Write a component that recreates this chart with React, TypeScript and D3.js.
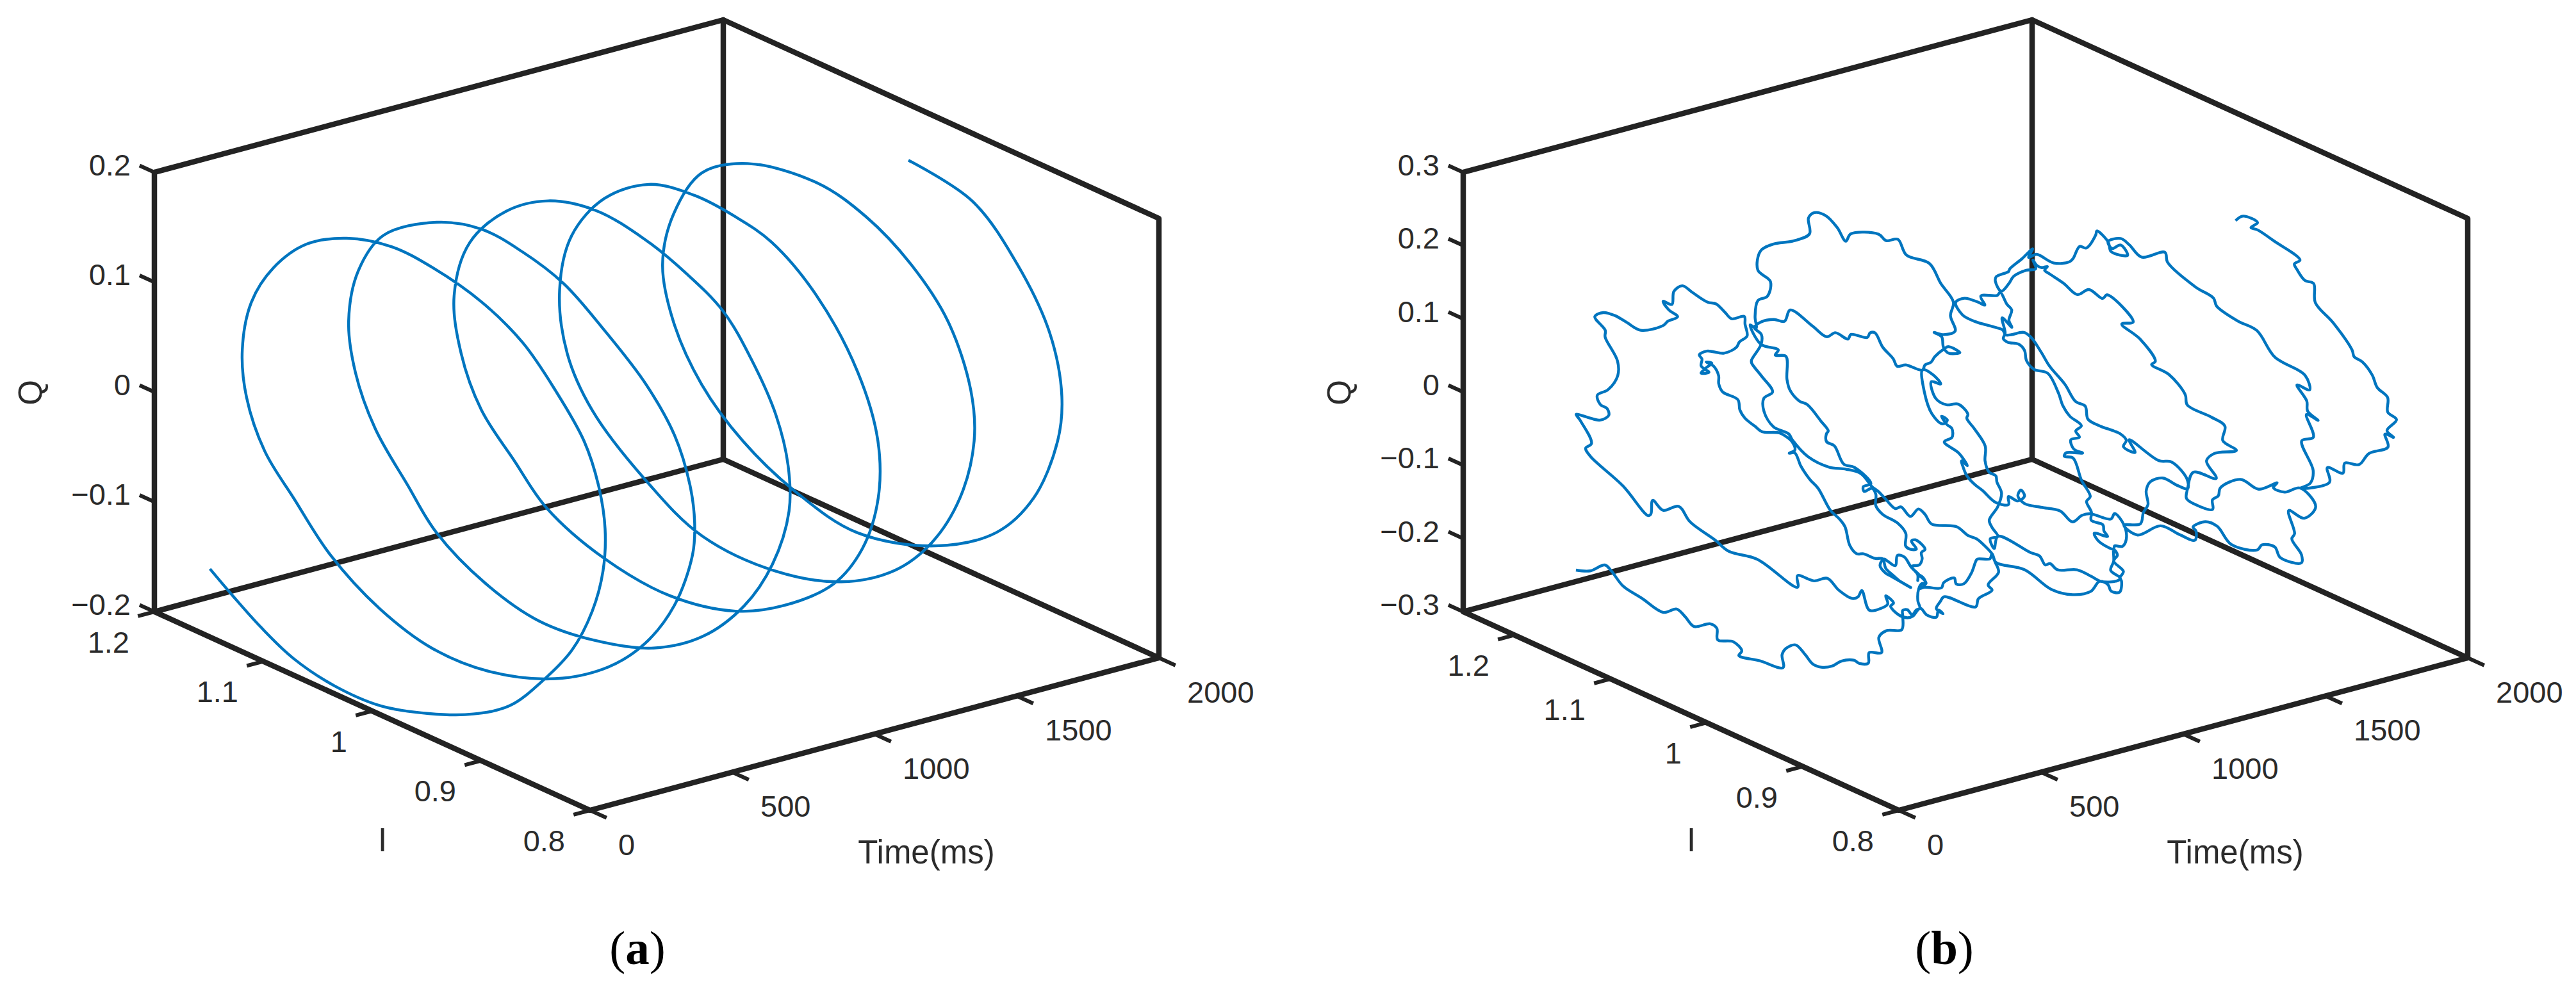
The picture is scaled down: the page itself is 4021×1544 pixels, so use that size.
import * as d3 from 'd3';
import { useEffect, useRef } from 'react';

// Tick labels shared by both panels
const timeTicks = [0, 500, 1000, 1500, 2000];
const iTicks = [0.8, 0.9, 1, 1.1, 1.2];
const qTicksA = [-0.2, -0.1, 0, 0.1, 0.2];
const qTicksB = [-0.3, -0.2, -0.1, 0, 0.1, 0.2, 0.3];

// Panel (a): clean signal
const aTime = [
  0, 11, 22, 33, 44, 54, 65, 76, 87, 98, 109, 119, 130, 141, 152, 163, 174, 185, 195, 206, 217, 228,
  243, 257, 272, 286, 301, 315, 330, 344, 359, 373, 388, 402, 417, 431, 446, 460, 475, 489, 504, 518, 533, 547, 562, 576, 590,
  606, 622, 637, 653, 669, 684, 700, 716, 732, 747, 763, 779, 794, 810, 826, 842, 857, 873, 889, 905, 920, 936, 952,
  969, 986, 1004, 1021, 1038, 1055, 1073, 1090, 1107, 1124, 1142, 1159, 1176, 1193, 1211, 1228, 1245, 1262, 1279, 1297, 1314,
  1333, 1352, 1371, 1390, 1409, 1428, 1447, 1466, 1485, 1504, 1523, 1542, 1561, 1580, 1599, 1618, 1637, 1656, 1676,
  1695, 1714, 1733, 1752, 1771, 1790, 1809, 1828, 1847, 1866, 1885, 1904, 1923, 1942, 1961, 1980, 2000,
];
const aI = [
  1.149, 1.131, 1.108, 1.081, 1.046, 1.007, 0.965, 0.927, 0.896, 0.869, 0.845, 0.829, 0.822, 0.823, 0.832, 0.848, 0.877, 0.91, 0.95, 0.998, 1.039, 1.083,
  1.124, 1.158, 1.182, 1.194, 1.194, 1.181, 1.158, 1.128, 1.087, 1.042, 0.993, 0.937, 0.892, 0.862, 0.839, 0.826, 0.828, 0.836, 0.854, 0.884, 0.926, 0.967, 1.009, 1.05, 1.095,
  1.148, 1.175, 1.188, 1.186, 1.172, 1.146, 1.124, 1.083, 1.038, 0.989, 0.941, 0.9, 0.866, 0.844, 0.833, 0.838, 0.853, 0.88, 0.91, 0.948, 0.99, 1.039, 1.087,
  1.13, 1.168, 1.187, 1.185, 1.171, 1.145, 1.12, 1.072, 1.016, 0.96, 0.92, 0.879, 0.857, 0.847, 0.852, 0.875, 0.917, 0.963, 1.001, 1.043, 1.089,
  1.135, 1.17, 1.186, 1.184, 1.166, 1.122, 1.075, 1.012, 0.957, 0.913, 0.884, 0.863, 0.855, 0.863, 0.889, 0.928, 0.974, 1.024, 1.093,
  1.14, 1.171, 1.186, 1.181, 1.16, 1.127, 1.083, 1.032, 0.965, 0.914, 0.885, 0.868, 0.869, 0.885, 0.92, 0.966, 1.03,
];
const aQ = [
  -0.138, -0.155, -0.174, -0.191, -0.201, -0.202, -0.191, -0.175, -0.154, -0.12, -0.082, -0.04, -0.001, 0.036, 0.071, 0.103, 0.135, 0.163, 0.181, 0.19, 0.19, 0.177,
  0.152, 0.114, 0.071, 0.021, -0.023, -0.067, -0.101, -0.14, -0.171, -0.188, -0.188, -0.17, -0.14, -0.106, -0.062, -0.011, 0.016, 0.046, 0.082, 0.114, 0.143, 0.166, 0.175, 0.176, 0.161,
  0.124, 0.079, 0.026, -0.021, -0.067, -0.108, -0.142, -0.171, -0.186, -0.183, -0.169, -0.141, -0.099, -0.052, 0, 0.038, 0.076, 0.114, 0.143, 0.159, 0.17, 0.173, 0.159,
  0.129, 0.082, 0.024, -0.029, -0.075, -0.111, -0.144, -0.169, -0.179, -0.169, -0.147, -0.11, -0.069, -0.02, 0.029, 0.08, 0.129, 0.156, 0.161, 0.16, 0.148,
  0.113, 0.062, 0.004, -0.054, -0.099, -0.144, -0.175, -0.18, -0.166, -0.137, -0.1, -0.051, 0.003, 0.044, 0.094, 0.127, 0.148, 0.155, 0.14,
  0.109, 0.056, 0.002, -0.049, -0.098, -0.136, -0.164, -0.179, -0.162, -0.128, -0.085, -0.027, 0.012, 0.061, 0.107, 0.142, 0.149,
];

// Panel (b): noisy signal, sampled evenly in time
const bTime = [
  0,3,7,10,13,16,20,23,26,30,33,36,39,43,46,49,52,56,59,62,66,69,72,75,79,
  82,85,89,92,95,98,102,105,108,112,115,118,121,125,128,131,134,138,141,144,148,151,154,157,161,
  164,167,171,174,177,180,184,187,190,194,197,200,203,207,210,213,216,220,223,226,230,233,236,239,243,
  246,249,253,256,259,262,266,269,272,276,279,282,285,289,292,295,298,302,305,308,312,315,318,321,325,
  328,331,335,338,341,344,348,351,354,358,361,364,367,371,374,377,380,384,387,390,394,397,400,403,407,
  410,413,417,420,423,426,430,433,436,440,443,446,449,453,456,459,462,466,469,472,476,479,482,485,489,
  492,495,499,502,505,508,512,515,518,522,525,528,531,535,538,541,544,548,551,554,558,561,564,567,571,
  574,577,581,584,587,590,594,597,600,604,607,610,613,617,620,623,626,630,633,636,640,643,646,649,653,
  656,659,663,666,669,672,676,679,682,686,689,692,695,699,702,705,708,712,715,718,722,725,728,731,735,
  738,741,745,748,751,754,758,761,764,768,771,774,777,781,784,787,790,794,797,800,804,807,810,813,817,
  820,823,827,830,833,836,840,843,846,850,853,856,859,863,866,869,872,876,879,882,886,889,892,895,899,
  902,905,909,912,915,918,922,925,928,932,935,938,941,945,948,951,954,958,961,964,968,971,974,977,981,
  984,987,991,994,997,1000,1004,1007,1010,1014,1017,1020,1023,1027,1030,1033,1036,1040,1043,1046,1050,1053,1056,1059,1063,
  1066,1069,1073,1076,1079,1082,1086,1089,1092,1096,1099,1102,1105,1109,1112,1115,1118,1122,1125,1128,1132,1135,1138,1141,1145,
  1148,1151,1155,1158,1161,1164,1168,1171,1174,1178,1181,1184,1187,1191,1194,1197,1200,1204,1207,1210,1214,1217,1220,1223,1227,
  1230,1233,1237,1240,1243,1246,1250,1253,1256,1260,1263,1266,1269,1273,1276,1279,1282,1286,1289,1292,1296,1299,1302,1305,1309,
  1312,1315,1319,1322,1325,1328,1332,1335,1338,1342,1345,1348,1351,1355,1358,1361,1364,1368,1371,1374,1378,1381,1384,1387,1391,
  1394,1397,1401,1404,1407,1410,1414,1417,1420,1424,1427,1430,1433,1437,1440,1443,1446,1450,1453,1456,1460,1463,1466,1469,1473,
  1476,1479,1483,1486,1489,1492,1496,1499,1502,1506,1509,1512,1515,1519,1522,1525,1528,1532,1535,1538,1542,1545,1548,1551,1555,
  1558,1561,1565,1568,1571,1574,1578,1581,1584,1588,1591,1594,1597,1601,1604,1607,1610,1614,1617,1620,1624,1627,1630,1633,1637,
  1640,1643,1647,1650,1653,1656,1660,1663,1666,1670,1673,1676,1679,1683,1686,1689,1692,1696,1699,1702,1706,1709,1712,1715,1719,
  1722,1725,1729,1732,1735,1738,1742,1745,1748,1752,1755,1758,1761,1765,1768,1771,1774,1778,1781,1784,1788,1791,1794,1797,1801,
  1804,1807,1811,1814,1817,1820,1824,1827,1830,1834,1837,1840,1843,1847,1850,1853,1856,1860,1863,1866,1870,1873,1876,1879,1883,
  1886,1889,1893,1896,1899,1902,1906,1909,1912,1916,1919,1922,1925,1929,1932,1935,1938,1942,1945,1948,1952,1955,1958,1961,1965,
  1968,1971,1975,1978,1981,1984,1988,1991,1994,1998,
];
const bI = [
  1.136,1.122,1.108,1.102,1.091,1.072,1.051,1.038,1.03,1.022,
  1.006,1,1,0.985,0.977,0.981,0.96,0.937,0.939,0.936,
  0.927,0.918,0.911,0.903,0.893,0.884,0.872,0.867,0.859,0.859,
  0.847,0.851,0.844,0.829,0.829,0.83,0.826,0.822,0.819,0.816,
  0.819,0.819,0.817,0.814,0.817,0.823,0.825,0.826,0.834,0.842,
  0.85,0.853,0.862,0.867,0.872,0.867,0.862,0.843,0.855,0.864,
  0.872,0.876,0.885,0.898,0.906,0.914,0.92,0.927,0.937,0.951,
  0.96,0.966,0.972,0.979,0.986,0.981,0.985,0.992,1,1.019,
  1.027,1.039,1.045,1.048,1.065,1.07,1.071,1.077,1.086,1.081,
  1.088,1.094,1.087,1.096,1.096,1.1,1.093,1.076,1.064,1.062,
  1.055,1.058,1.06,1.074,1.082,1.092,1.102,1.119,1.13,1.14,
  1.143,1.153,1.148,1.14,1.151,1.157,1.181,1.197,1.21,1.223,
  1.233,1.223,1.224,1.212,1.213,1.224,1.236,1.234,1.228,1.227,
  1.237,1.251,1.264,1.261,1.25,1.257,1.253,1.22,1.195,1.193,
  1.192,1.182,1.167,1.156,1.131,1.118,1.089,1.048,1.049,1.033,
  1.02,1.009,0.996,0.991,0.988,0.981,0.969,0.964,0.967,0.96,
  0.964,0.955,0.948,0.944,0.937,0.931,0.922,0.921,0.917,0.925,
  0.922,0.919,0.887,0.885,0.872,0.877,0.867,0.872,0.876,0.879,
  0.893,0.896,0.901,0.91,0.919,0.922,0.934,0.937,0.956,0.962,
  0.956,0.964,0.973,0.966,0.964,0.966,0.963,0.974,0.979,0.975,
  0.983,0.988,0.989,0.998,1.015,1.023,1.024,1.029,1.038,1.04,
  1.033,1.051,1.063,1.074,1.083,1.084,1.083,1.092,1.107,1.116,
  1.127,1.131,1.133,1.145,1.143,1.162,1.174,1.169,1.171,1.169,
  1.16,1.158,1.172,1.17,1.158,1.138,1.122,1.124,1.119,1.108,
  1.097,1.089,1.085,1.057,1.05,1.039,1.031,1.008,0.997,0.985,
  0.989,0.985,0.998,1.009,1.002,1.001,0.997,0.986,0.999,1.004,
  1.015,1.02,1.027,1.031,1.049,1.059,1.064,1.076,1.085,1.091,
  1.095,1.113,1.117,1.131,1.141,1.157,1.181,1.188,1.2,1.214,
  1.222,1.216,1.217,1.228,1.229,1.22,1.209,1.219,1.22,1.211,
  1.196,1.193,1.178,1.157,1.14,1.126,1.115,1.11,1.104,1.094,
  1.089,1.08,1.073,1.067,1.061,1.036,1.025,1.017,1.006,1.003,
  1,0.971,0.944,0.923,0.905,0.897,0.889,0.887,0.879,0.878,
  0.881,0.878,0.889,0.886,0.891,0.892,0.896,0.887,0.892,0.909,
  0.92,0.936,0.957,0.966,0.972,0.979,0.989,1.024,1.029,1.034,
  1.027,1.034,1.038,1.03,1.027,1.033,1.035,1.043,1.048,1.049,
  1.061,1.07,1.07,1.081,1.094,1.106,1.112,1.103,1.112,1.124,
  1.123,1.116,1.106,1.102,1.109,1.104,1.1,1.101,1.11,1.096,
  1.088,1.095,1.094,1.091,1.084,1.077,1.064,1.052,1.053,1.044,
  1.038,1.043,1.047,1.041,1.025,1.006,0.994,0.985,0.978,0.957,
  0.954,0.945,0.944,0.949,0.958,0.96,0.977,0.982,0.969,0.974,
  0.976,0.989,0.99,0.996,0.993,1.003,1.013,1.023,1.022,1.006,
  1.016,1.02,1.012,1.017,1.012,1.025,1.033,1.039,1.051,1.066,
  1.075,1.078,1.085,1.097,1.103,1.102,1.106,1.097,1.101,1.099,
  1.105,1.113,1.117,1.135,1.132,1.139,1.155,1.165,1.159,1.147,
  1.126,1.12,1.118,1.113,1.101,1.095,1.085,1.077,1.062,1.052,
  1.043,1.041,1.031,1.009,1.004,1.008,0.997,1.004,0.974,0.962,
  0.947,0.947,0.959,0.975,0.989,0.994,0.993,0.999,1.003,1.021,
  1.008,0.985,0.966,0.951,0.951,0.955,0.943,0.932,0.918,0.892,
  0.888,0.876,0.871,0.85,0.851,0.862,0.86,0.867,0.852,0.841,
  0.858,0.875,0.888,0.885,0.905,0.925,0.947,0.95,0.957,0.958,
  0.977,0.987,0.987,0.982,0.959,0.97,0.963,0.941,0.956,0.955,
  0.97,0.996,0.999,1.017,1.036,1.033,1.05,1.07,1.059,1.087,
  1.093,1.108,1.121,1.136,1.152,1.158,1.156,1.163,1.169,1.174,
  1.172,1.183,1.197,1.203,1.212,1.219,1.219,1.207,1.207,1.195,
  1.185,1.19,1.183,1.166,1.151,1.148,1.142,1.136,1.127,1.127,
  1.116,1.114,1.098,1.106,1.116,1.121,1.109,1.101,1.089,1.066,
  1.064,1.036,1.018,1.016,0.995,0.976,0.958,0.928,0.924,0.938,
  0.929,0.929,0.919,0.932,0.926,0.939,0.928,0.932,0.943,0.914,
  0.917,0.902,0.901,0.887,0.878,0.859,0.863,0.855,0.863,0.854,
  0.864,0.865,0.877,0.883,0.894,0.904,0.907,0.928,0.947,0.95,
  0.96,0.969,0.973,0.968,0.996,1.014,1.022,1.016,1.032,1.041,
];
const bQ = [
  -0.173,-0.166,-0.15,-0.155,-0.169,-0.175,-0.182,-0.17,-0.176,-0.185,
  -0.172,-0.175,-0.191,-0.185,-0.193,-0.202,-0.197,-0.193,-0.177,-0.167,
  -0.157,-0.165,-0.174,-0.174,-0.167,-0.155,-0.147,-0.149,-0.144,-0.13,
  -0.123,-0.105,-0.092,-0.082,-0.065,-0.057,-0.054,-0.059,-0.051,-0.047,
  -0.039,-0.023,-0.015,-0.013,-0.008,-0.008,-0.017,-0.01,-0.004,0.004,
  0.001,-0.015,-0.015,-0.015,-0.027,-0.035,-0.037,-0.041,-0.04,-0.037,
  -0.033,-0.023,-0.028,-0.03,-0.035,-0.029,-0.007,-0.001,0.004,0.026,
  0.031,0.036,0.043,0.056,0.051,0.058,0.067,0.069,0.069,0.059,
  0.061,0.065,0.072,0.084,0.084,0.092,0.102,0.111,0.111,0.112,
  0.101,0.09,0.095,0.098,0.107,0.11,0.119,0.126,0.141,0.149,
  0.161,0.175,0.184,0.172,0.176,0.181,0.177,0.18,0.182,0.168,
  0.148,0.146,0.137,0.132,0.119,0.109,0.088,0.089,0.09,0.086,
  0.074,0.061,0.051,0.025,0.004,-0.022,-0.037,-0.049,-0.051,-0.06,
  -0.073,-0.078,-0.082,-0.088,-0.114,-0.125,-0.134,-0.155,-0.181,-0.178,
  -0.159,-0.167,-0.153,-0.168,-0.178,-0.186,-0.18,-0.194,-0.179,-0.177,
  -0.166,-0.176,-0.18,-0.175,-0.165,-0.188,-0.178,-0.17,-0.161,-0.167,
  -0.174,-0.182,-0.181,-0.177,-0.162,-0.168,-0.166,-0.156,-0.159,-0.157,
  -0.146,-0.138,-0.133,-0.121,-0.102,-0.098,-0.075,-0.064,-0.056,-0.065,
  -0.074,-0.08,-0.098,-0.119,-0.125,-0.119,-0.133,-0.142,-0.153,-0.159,
  -0.148,-0.142,-0.136,-0.13,-0.121,-0.114,-0.108,-0.102,-0.107,-0.116,
  -0.121,-0.12,-0.104,-0.096,-0.094,-0.087,-0.073,-0.068,-0.078,-0.073,
  -0.065,-0.054,-0.057,-0.039,-0.039,-0.029,-0.025,-0.017,-0.004,-0.005,
  0.003,0.015,0.045,0.039,0.047,0.043,0.062,0.06,0.074,0.097,
  0.108,0.129,0.136,0.163,0.179,0.195,0.214,0.234,0.244,0.246,
  0.236,0.222,0.234,0.25,0.245,0.253,0.236,0.238,0.217,0.198,
  0.177,0.158,0.145,0.141,0.139,0.125,0.119,0.126,0.126,0.12,
  0.102,0.091,0.083,0.073,0.069,0.061,0.068,0.076,0.09,0.086,
  0.077,0.07,0.061,0.061,0.049,0.054,0.061,0.041,0.036,0.024,
  0.011,0.005,-0.009,-0.038,-0.043,-0.055,-0.071,-0.086,-0.105,-0.121,
  -0.122,-0.129,-0.143,-0.145,-0.138,-0.136,-0.148,-0.151,-0.157,-0.166,
  -0.161,-0.169,-0.155,-0.159,-0.169,-0.158,-0.164,-0.164,-0.172,-0.177,
  -0.187,-0.18,-0.191,-0.186,-0.171,-0.153,-0.153,-0.161,-0.158,-0.142,
  -0.141,-0.13,-0.123,-0.113,-0.109,-0.126,-0.141,-0.147,-0.154,-0.165,
  -0.165,-0.166,-0.179,-0.176,-0.182,-0.174,-0.176,-0.175,-0.195,-0.185,
  -0.178,-0.17,-0.163,-0.14,-0.12,-0.109,-0.102,-0.102,-0.09,-0.071,
  -0.055,-0.046,-0.041,-0.034,-0.043,-0.042,-0.023,-0.021,-0.014,-0.015,
  -0.045,-0.071,-0.079,-0.072,-0.071,-0.08,-0.083,-0.096,-0.108,-0.115,
  -0.128,-0.126,-0.135,-0.145,-0.153,-0.157,-0.166,-0.162,-0.152,-0.153,
  -0.143,-0.138,-0.149,-0.156,-0.152,-0.146,-0.154,-0.14,-0.134,-0.129,
  -0.12,-0.131,-0.15,-0.163,-0.168,-0.174,-0.173,-0.166,-0.163,-0.159,
  -0.152,-0.154,-0.144,-0.133,-0.125,-0.109,-0.085,-0.089,-0.084,-0.075,
  -0.076,-0.066,-0.058,-0.053,-0.043,-0.038,-0.029,-0.015,0.004,0,
  0.006,0.018,0.022,0.017,0.018,0.026,0.044,0.036,0.043,0.058,
  0.062,0.073,0.066,0.054,0.043,0.042,0.038,0.026,0.012,0.01,
  0.014,0.014,0.008,0.011,0.021,0.018,0.003,-0.012,-0.028,-0.046,
  -0.047,-0.064,-0.067,-0.066,-0.072,-0.083,-0.085,-0.072,-0.083,-0.078,
  -0.092,-0.106,-0.109,-0.109,-0.123,-0.139,-0.157,-0.172,-0.19,-0.203,
  -0.209,-0.183,-0.184,-0.183,-0.171,-0.168,-0.154,-0.154,-0.171,-0.163,
  -0.154,-0.15,-0.162,-0.157,-0.147,-0.132,-0.124,-0.097,-0.099,-0.077,
  -0.062,-0.078,-0.08,-0.072,-0.093,-0.092,-0.117,-0.13,-0.14,-0.154,
  -0.159,-0.157,-0.144,-0.119,-0.114,-0.097,-0.083,-0.066,-0.062,-0.042,
  -0.039,-0.038,-0.026,-0.01,-0.008,-0.002,0.018,0.026,0.035,0.055,
  0.046,0.049,0.034,0.04,0.043,0.044,0.05,0.044,0.043,0.047,
  0.036,0.027,0.01,-0.004,-0.02,-0.011,-0.005,0.009,0.012,0.033,
  0.052,0.037,0.045,0.043,0.053,0.059,0.079,0.08,0.103,0.108,
  0.099,0.087,0.091,0.1,0.089,0.095,0.106,0.102,0.092,0.112,
  0.099,0.082,0.077,0.067,0.059,0.057,0.031,0.024,0.006,0.004,
  -0.013,-0.027,-0.034,-0.034,-0.062,-0.075,-0.109,-0.129,-0.143,-0.118,
  -0.1,-0.099,-0.085,-0.079,-0.059,-0.039,-0.024,-0.024,-0.02,0,
  0.004,0.023,0.029,0.042,0.053,0.054,0.061,0.086,0.101,0.125,
  0.123,0.132,0.137,0.145,0.154,0.158,0.156,0.166,0.165,0.153,
];

interface PanelConfig {
  originX: number; // screen position of the front corner of the floor
  iDomain: [number, number];
  qDomain: [number, number];
  qTicks: number[];
  time: number[];
  i: number[];
  q: number[];
  caption: string;
  captionX: number;
}

const INK = '#232323';
const TEXT = '#2b2b2b';
const LINE = '#0075bf';
const FONT = '"Liberation Sans", Arial, sans-serif';

// Box corner offsets
const originY = 1265;
const timeRun = { x: 888, y: -238 };
const iRun = { x: -680, y: -310 };
const qRise = -686;

const drawPanel = (
  svg: d3.Selection<SVGSVGElement, unknown, null, undefined>,
  p: PanelConfig,
) => {
  const g = svg.append('g');

  // Fixed oblique view: one scale per screen contribution of each data axis
  const tx = d3.scaleLinear().domain([0, 2000]).range([0, timeRun.x]);
  const ty = d3.scaleLinear().domain([0, 2000]).range([0, timeRun.y]);
  const ix = d3.scaleLinear().domain(p.iDomain).range([0, iRun.x]);
  const iy = d3.scaleLinear().domain(p.iDomain).range([0, iRun.y]);
  const qy = d3.scaleLinear().domain(p.qDomain).range([0, qRise]);

  const project = (t: number, i: number, q: number): [number, number] => [
    p.originX + tx(t) + ix(i),
    originY + ty(t) + iy(i) + qy(q),
  ];

  const [i0, i1] = p.iDomain;
  const [q0, q1] = p.qDomain;
  const corner = (t: number, i: number, q: number) => project(t, i, q);
  const link = d3.line();

  // ====== Box edges ======
  const edges: [number, number][][] = [
    [corner(0, i1, q1), corner(2000, i1, q1), corner(2000, i0, q1), corner(2000, i0, q0)],
    [corner(2000, i1, q1), corner(2000, i1, q0)],
    [corner(0, i1, q1), corner(0, i1, q0), corner(0, i0, q0), corner(2000, i0, q0), corner(2000, i1, q0), corner(0, i1, q0)],
  ];
  edges.forEach((pts) => {
    g.append('path')
      .attr('d', link(pts))
      .attr('fill', 'none')
      .attr('stroke', INK)
      .attr('stroke-width', 8.5)
      .attr('stroke-linejoin', 'round')
      .attr('stroke-linecap', 'round');
  });

  // ====== Ticks ======
  const iSpan = i1 - i0;
  const tickLine = (a: [number, number], b: [number, number]) =>
    g.append('path')
      .attr('d', link([a, b]))
      .attr('stroke', INK)
      .attr('stroke-width', 6)
      .attr('fill', 'none');

  timeTicks.forEach((t) => tickLine(project(t, i0, q0), project(t, i0 - iSpan * 0.038, q0)));
  iTicks.forEach((i) => tickLine(project(0, i, q0), project(-58, i, q0)));
  p.qTicks.forEach((q) => tickLine(project(0, i1, q), project(0, i1 + iSpan * 0.034, q)));

  // ====== Tick labels ======
  const label = (x: number, y: number, text: string, anchor: string, size = 47) =>
    g.append('text')
      .attr('x', x)
      .attr('y', y)
      .attr('dy', '0.36em')
      .attr('text-anchor', anchor)
      .attr('font-family', FONT)
      .attr('font-size', size)
      .attr('fill', TEXT)
      .text(text);

  timeTicks.forEach((t) => {
    const [x, y] = project(t, i0, q0);
    label(x + 44, y + 53, String(t), 'start');
  });
  iTicks.forEach((i) => {
    const [x, y] = project(0, i, q0);
    label(x - 39, y + 47, String(i), 'end');
  });
  p.qTicks.forEach((q) => {
    const [x, y] = project(0, i1, q);
    label(x - 37, y - 12, String(q).replace('-', '\u2212'), 'end');
  });

  // ====== Axis titles ======
  label(p.originX + 525, originY + 65, 'Time(ms)', 'middle', 51);
  label(p.originX - 324, originY + 46, 'I', 'middle', 51);
  const leftEdge = project(0, i1, 0)[0];
  g.append('text')
    .attr('transform', `translate(${leftEdge - 194},${originY - 652}) rotate(-90)`)
    .attr('dy', '0.36em')
    .attr('text-anchor', 'middle')
    .attr('font-family', FONT)
    .attr('font-size', 51)
    .attr('fill', TEXT)
    .text('Q');

  // ====== Signal ======
  const points = p.time.map((t, k) => project(t, p.i[k], p.q[k]));
  g.append('path')
    .attr('d', d3.line().curve(d3.curveCatmullRom.alpha(0.5))(points))
    .attr('fill', 'none')
    .attr('stroke', LINE)
    .attr('stroke-width', 4.4)
    .attr('stroke-linejoin', 'round');

  // ====== Caption ======
  const caption = g.append('text')
    .attr('x', p.captionX)
    .attr('y', 1482)
    .attr('dy', '0.3em')
    .attr('text-anchor', 'middle')
    .attr('font-family', '"Liberation Serif", "Times New Roman", serif')
    .attr('font-size', 75)
    .attr('fill', '#000');
  caption.append('tspan').text('(');
  caption.append('tspan').attr('font-weight', 'bold').text(p.caption);
  caption.append('tspan').text(')');
};

const App = () => {
  const svgRef = useRef<SVGSVGElement | null>(null);

  useEffect(() => {
    if (!svgRef.current) return;
    const svg = d3.select(svgRef.current);
    svg.selectAll('*').remove();

    drawPanel(svg, {
      originX: 921,
      iDomain: [0.8, 1.2],
      qDomain: [-0.2, 0.2],
      qTicks: qTicksA,
      time: aTime,
      i: aI,
      q: aQ,
      caption: 'a',
      captionX: 995,
    });
    drawPanel(svg, {
      originX: 2964,
      iDomain: [0.8, 1.2533],
      qDomain: [-0.3, 0.3],
      qTicks: qTicksB,
      time: bTime,
      i: bI,
      q: bQ,
      caption: 'b',
      captionX: 3035,
    });
  }, []);

  return (
    <svg
      ref={svgRef}
      width={4021}
      height={1544}
      style={{ position: 'absolute', left: 0, top: 0, background: '#fff' }}
    />
  );
};

export default App;
